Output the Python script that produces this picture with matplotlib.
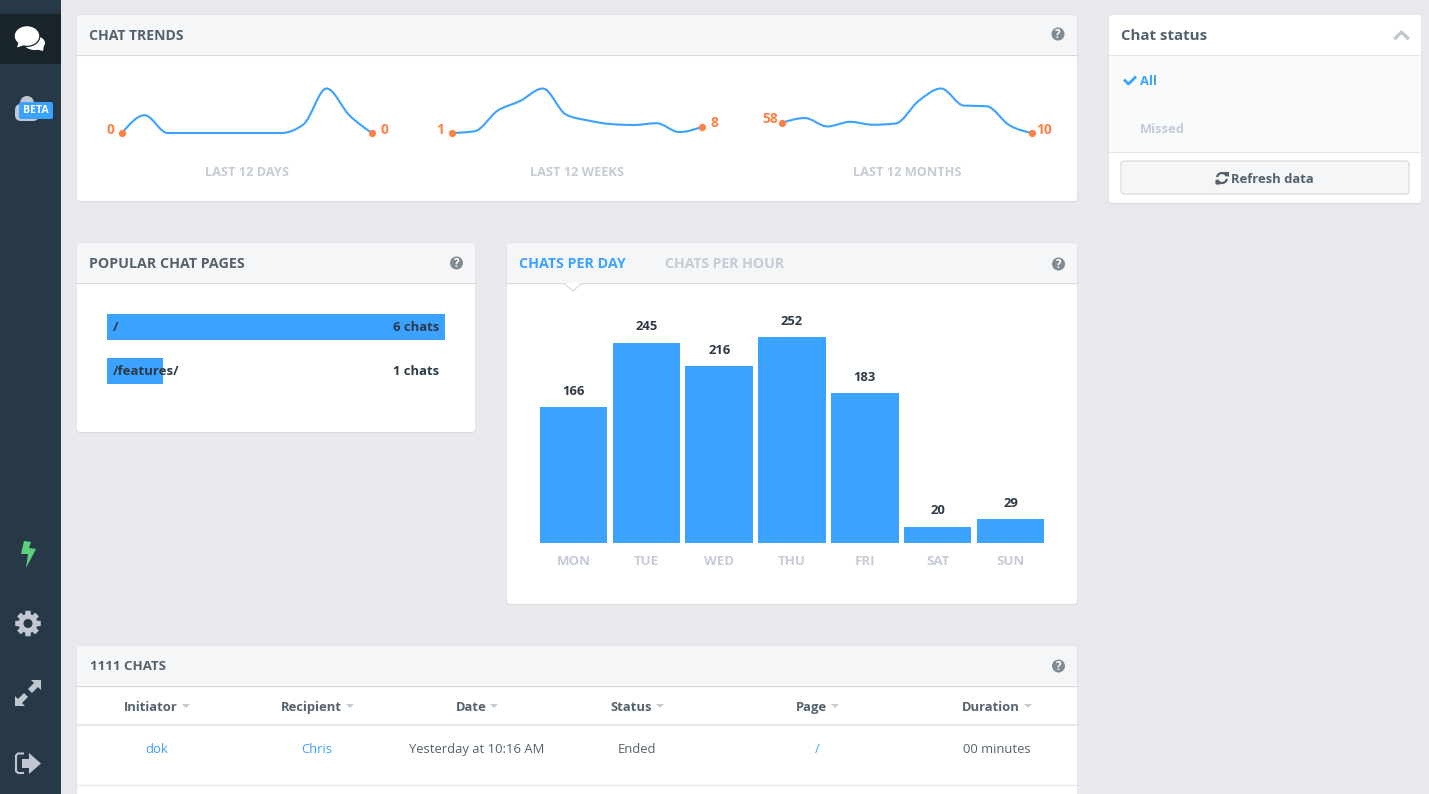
import numpy as np
import matplotlib
matplotlib.use('Agg')
import matplotlib.pyplot as plt
from matplotlib.patches import FancyBboxPatch, PathPatch, Circle, Ellipse, Polygon, Rectangle, Arc
from matplotlib.path import Path

plt.rcParams['font.family'] = ['Open Sans', 'DejaVu Sans']

W, H = 1429, 794

# data
days_values = [0, 2, 0, 0, 0, 0, 0, 0, 1, 5, 2, 0]
weeks_values = [1, 3, 26, 37, 51, 22, 15, 11, 10, 12, 2, 8]
months_values = [58, 81, 41, 63, 49, 55, 161, 221, 140, 137, 47, 10]
trend_titles = ['LAST 12 DAYS', 'LAST 12 WEEKS', 'LAST 12 MONTHS']

page_names = ['/', '/features/']
page_chats = [6, 1]

weekdays = ['MON', 'TUE', 'WED', 'THU', 'FRI', 'SAT', 'SUN']
chats_per_day = [166, 245, 216, 252, 183, 20, 29]

table_columns = ['Initiator', 'Recipient', 'Date', 'Status', 'Page', 'Duration']
table_row = ['dok', 'Chris', 'Yesterday at 10:16 AM', 'Ended', '/', '00 minutes']

BLUE = '#3ca2ff'
ORANGE = '#ff7f45'
HEAD = '#55626e'
DARK = '#2d3a46'
PALE = '#c5cbd7'
RULE = '#d6d8dc'
ICON = '#c2c6d0'
SIDE = '#273846'


def px_axes(left, top, right, bottom):
    ax = fig.add_axes([left / W, 1 - bottom / H, (right - left) / W, (bottom - top) / H])
    ax.patch.set_alpha(0)
    ax.set_axis_off()
    return ax


def txt(x, y, s, size=13, color=HEAD, weight='bold', ha='left'):
    bg.text(x, y - 0.8, s, fontsize=size * 0.72, color=color, fontweight=weight, ha=ha, va='center_baseline')


def box(x0, y0, x1, y1, color, edge='none', radius=3, lw=0.7, z=1):
    p = FancyBboxPatch((x0 + radius, y0 + radius), x1 - x0 - 2 * radius, y1 - y0 - 2 * radius,
                       boxstyle='round,pad=%s,rounding_size=%s' % (radius, radius),
                       fc=color, ec=edge, lw=lw, zorder=z)
    bg.add_patch(p)


def panel(x0, y0, x1, y1, header_bottom, header_color='#f5f6f8', rule=RULE):
    box(x0 - 0.3, y0 - 0.3, x1 + 0.3, y1 + 1.2, '#d8dade')
    box(x0, y0, x1, y1, 'white')
    box(x0, y0, x1, header_bottom + 4, header_color)
    bg.add_patch(Rectangle((x0, header_bottom - 1), x1 - x0, 6, fc='white', zorder=1))
    bg.plot([x0, x1], [header_bottom, header_bottom], color=rule, lw=0.9, zorder=2)


def question(x, y):
    bg.add_patch(Circle((x, y), 6.5, fc='#818b94', zorder=3))
    bg.text(x, y + 0.2, '?', fontsize=8.5, color='white', fontweight='bold',
            ha='center', va='center', zorder=4)


def caret(x, y):
    bg.add_patch(Polygon([(x - 4, y - 2), (x + 4, y - 2), (x, y + 2)], fc=PALE, zorder=3))


def monotone_path(xs, ys):
    # cubic segments with monotone tangents, so the line does not overshoot
    xs = np.asarray(xs, float)
    ys = np.asarray(ys, float)
    h = np.diff(xs)
    s = np.diff(ys) / h
    t = np.zeros(len(xs))
    for i in range(1, len(xs) - 1):
        p = (s[i - 1] * h[i] + s[i] * h[i - 1]) / (h[i - 1] + h[i])
        t[i] = (np.sign(s[i - 1]) + np.sign(s[i])) * min(abs(s[i - 1]), abs(s[i]), 0.5 * abs(p))
    t[0] = (3 * s[0] - t[1]) / 2
    t[-1] = (3 * s[-1] - t[-2]) / 2
    verts = [(xs[0], ys[0])]
    codes = [Path.MOVETO]
    for i in range(len(xs) - 1):
        d = h[i] / 3
        verts += [(xs[i] + d, ys[i] + d * t[i]), (xs[i + 1] - d, ys[i + 1] - d * t[i + 1]), (xs[i + 1], ys[i + 1])]
        codes += [Path.CURVE4] * 3
    return Path(verts, codes)


def sparkline(left, values, title):
    ax = px_axes(left, 88.5, left + 250, 133)
    x = np.arange(len(values))
    ax.set_xlim(0, len(values) - 1)
    ax.set_ylim(min(values), max(values))
    ax.add_patch(PathPatch(monotone_path(x, values), fc='none', ec=BLUE, lw=1.5, clip_on=False))
    ax.plot([x[0], x[-1]], [values[0], values[-1]], 'o', color=ORANGE, ms=5.2, mew=0, clip_on=False)
    for i, dx in [(0, -12), (-1, 12)]:
        ax.annotate(str(values[i]), (x[i], values[i]), xytext=(dx * 0.72, 5 * 0.72),
                    textcoords='offset points', ha='center', va='center_baseline',
                    fontsize=9.9, color=ORANGE, fontweight='bold')
    txt(left + 125, 171.5, title, 12.8, PALE, 'bold', 'center')


fig = plt.figure(figsize=(W / 100, H / 100), dpi=100, facecolor='#e8e9ed')
bg = fig.add_axes([0, 0, 1, 1])
bg.set_xlim(0, W)
bg.set_ylim(H, 0)
bg.set_axis_off()

# sidebar
bg.add_patch(Rectangle((0, 0), 61, H, fc=SIDE, zorder=1))
bg.add_patch(Rectangle((0, 14), 61, 50, fc='#18232a', zorder=2))

# chat icon
bg.add_patch(Ellipse((34.5, 43), 21, 14, fc='white', zorder=3))
bg.add_patch(Polygon([(36, 46), (44, 45), (43, 51), (35, 49)], fc='white', zorder=3))
bg.add_patch(Ellipse((27, 36), 27, 22, fc='#18232a', zorder=4))
bg.add_patch(Ellipse((27, 36), 24.5, 19.5, fc='white', zorder=5))
bg.add_patch(Polygon([(19, 41), (27, 44), (17, 47.5)], fc='white', zorder=5))

# beta icon
bg.add_patch(Circle((27, 103), 7, fc=ICON, zorder=3))
box(15, 104, 39, 121, ICON, radius=6, z=3)
box(19, 102, 53, 119, BLUE, radius=2, z=4)
bg.text(36, 110.3, 'BETA', fontsize=7.6, color='white', fontweight='bold', ha='center', va='center', zorder=5)

# bolt
bg.add_patch(Polygon([(24, 541), (31, 542), (29, 548), (36, 549), (26, 568), (28, 554), (21, 554)],
                     fc='#5bd17f', zorder=3))

# gear
angles = np.linspace(0, 2 * np.pi, 8, endpoint=False)
gear_pts = []
for a in angles:
    for da, r in [(-0.30, 9.5), (-0.20, 13), (0.20, 13), (0.30, 9.5)]:
        gear_pts.append((28 + r * np.cos(a + da), 623.5 + r * np.sin(a + da)))
bg.add_patch(Polygon(gear_pts, fc=ICON, zorder=3))
bg.add_patch(Circle((28, 623.5), 4.5, fc=SIDE, zorder=4))

# expand
bg.add_patch(Polygon([(31, 680), (41, 680), (41, 690), (38, 687), (32, 693), (28, 689), (34, 683)], fc=ICON, zorder=3))
bg.add_patch(Polygon([(15, 706), (15, 696), (18, 699), (24, 693), (28, 697), (22, 703), (25, 706)], fc=ICON, zorder=3))

# sign out
bg.add_patch(PathPatch(Path([(24, 753.5), (18, 753.5), (16, 755.5), (16, 771), (18, 773), (24, 773)],
                            [Path.MOVETO, Path.LINETO, Path.LINETO, Path.LINETO, Path.LINETO, Path.LINETO]),
                       fc='none', ec=ICON, lw=1.5, zorder=3))
bg.add_patch(Polygon([(22, 759), (29, 759), (29, 753), (41, 763.5), (29, 774), (29, 768), (22, 768)], fc=ICON, zorder=3))

# panels
panel(77, 15, 1077, 201, 55)
panel(77, 243, 475, 432, 283)
panel(507, 243, 1077, 604, 283)
panel(77, 646, 1077, 830, 686)
panel(1109, 15, 1421, 203, 55, header_color='white', rule='#e6e8ea')

txt(89, 35, 'CHAT TRENDS', 14)
question(1058, 34)
txt(89, 263, 'POPULAR CHAT PAGES', 14.2)
question(456.5, 263)
txt(519, 263, 'CHATS PER DAY', 14.2, BLUE)
txt(665, 263, 'CHATS PER HOUR', 14, PALE)
question(1058.5, 264)
bg.add_patch(Polygon([(565, 284), (581, 284), (573, 291)], fc='white', ec=RULE, lw=0.8, zorder=3))
bg.add_patch(Rectangle((566, 282.5), 14, 2, fc='white', zorder=4))
txt(90, 666, '1111 CHATS', 13.3)
question(1058.5, 666)

# trends
sparkline(122, days_values, trend_titles[0])
sparkline(452, weeks_values, trend_titles[1])
sparkline(782, months_values, trend_titles[2])

# popular pages
ax_pages = px_axes(107, 305, 445, 393)
ax_pages.barh(range(len(page_names)), page_chats, height=26 / 44, color=BLUE)
ax_pages.set_xlim(0, max(page_chats))
ax_pages.set_ylim(1.5, -0.5)
for i, name in enumerate(page_names):
    ax_pages.annotate(name, (0, i), xytext=(6 * 0.72, 0.5), textcoords='offset points', va='center_baseline',
                      fontsize=9.5, color=DARK, fontweight='bold')
    ax_pages.annotate('%d chats' % page_chats[i], (max(page_chats), i), xytext=(-6 * 0.72, 0.5),
                      textcoords='offset points', ha='right', va='center_baseline',
                      fontsize=9.4, color=DARK, fontweight='bold')

# chats per day
ax_days = px_axes(537.1, 300, 1046.9, 543)
ax_days.bar(range(len(weekdays)), chats_per_day, width=0.927, color=BLUE)
ax_days.set_xlim(-0.5, len(weekdays) - 0.5)
ax_days.set_ylim(0, 243 / (206 / 252))
for i, v in enumerate(chats_per_day):
    ax_days.annotate(str(v), (i, v), xytext=(0, 17.3 * 0.72), textcoords='offset points', ha='center',
                     va='center_baseline', fontsize=9.4, color=DARK, fontweight='bold')
    ax_days.annotate(weekdays[i], (i, 0), xytext=(0, -16.8 * 0.72), textcoords='offset points', ha='center',
                     va='center_baseline', fontsize=9.5, color=PALE, fontweight='bold')

# table
col_centers = [151, 311, 471, 631, 811, 991]
row_centers = [157, 317, 477, 637, 817, 997]
row_colors = [BLUE, BLUE, HEAD, HEAD, BLUE, HEAD]
for i, name in enumerate(table_columns):
    txt(col_centers[i], 706.5, name, 13, HEAD, 'bold', 'center')
for x in [186, 350, 494, 660, 835, 1028]:
    caret(x, 706)
for i, cell in enumerate(table_row):
    txt(row_centers[i], 748.5, cell, 13, row_colors[i], 'normal', 'center')
bg.plot([77, 1077], [725, 725], color='#e8e9ed', lw=1.5, zorder=2)
bg.plot([77, 1077], [785, 785], color='#e8e9ed', lw=1, zorder=2)

# status panel
bg.add_patch(Rectangle((1109, 56), 312, 96, fc='#f9fafa', zorder=1.5))
bg.plot([1109, 1421], [152, 152], color='#e4e6e9', lw=0.9, zorder=2)
txt(1121, 35, 'Chat status', 15)
bg.plot([1395.5, 1401.5, 1407.5], [38, 32, 38], color=ICON, lw=2.4, zorder=3)
bg.plot([1125, 1128.5, 1135], [80.5, 84, 77.5], color=BLUE, lw=2, zorder=3)
txt(1140, 81, 'All', 13, BLUE)
txt(1140, 129, 'Missed', 13, PALE)
box(1121, 161, 1409, 194, '#f5f6f8', edge='#cfd2d6', radius=3, lw=0.7, z=3)
bg.add_patch(Arc((1222, 178), 10, 10, theta1=190, theta2=340, ec=HEAD, lw=1.6, zorder=4))
bg.add_patch(Arc((1222, 178), 10, 10, theta1=10, theta2=160, ec=HEAD, lw=1.6, zorder=4))
bg.add_patch(Polygon([(1224, 172), (1228, 172), (1228, 176)], fc=HEAD, ec=HEAD, lw=0.8, zorder=4))
bg.add_patch(Polygon([(1216, 180), (1220, 184), (1216, 184)], fc=HEAD, ec=HEAD, lw=0.8, zorder=4))
txt(1231.5, 178.5, 'Refresh data', 13, HEAD)

bg.set_xlim(0, W)
bg.set_ylim(H, 0)
fig.savefig('out.png', dpi=100, facecolor=fig.get_facecolor())
